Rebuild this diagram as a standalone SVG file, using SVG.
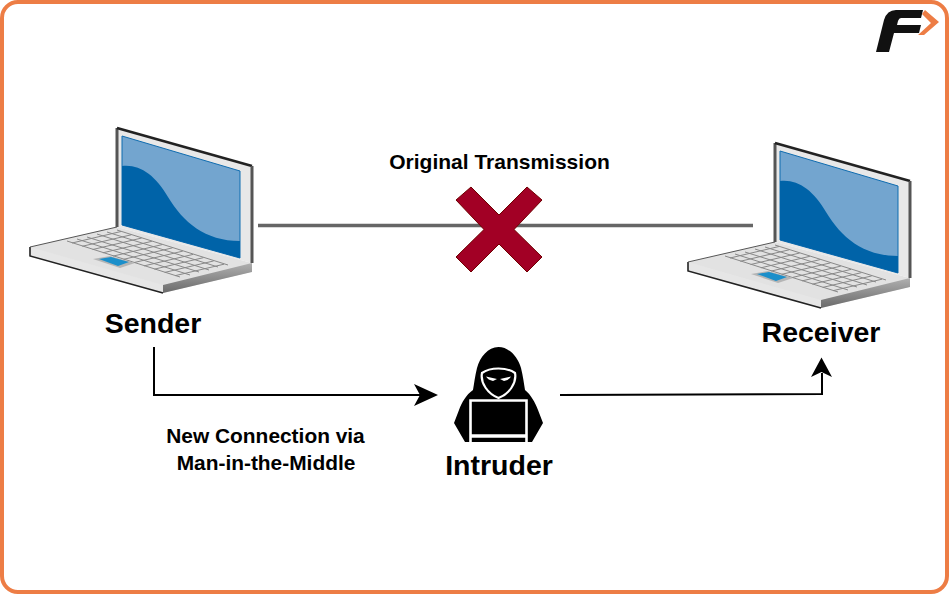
<svg xmlns="http://www.w3.org/2000/svg" xmlns:xlink="http://www.w3.org/1999/xlink" width="949" height="594" viewBox="0 0 949 594">
<style>
text{font-family:"Liberation Sans",Arial,sans-serif;font-weight:700;fill:#000;text-anchor:middle}
.big{font-size:28.5px}
.mid{font-size:21px}
.small{font-size:20.9px}
.wire{fill:none;stroke:#000;stroke-width:2}
.head{fill:#000}
</style>
<defs>
<linearGradient id="side" x1="0" y1="0" x2="0" y2="1"><stop offset="0" stop-color="#b0b0b0"/><stop offset="1" stop-color="#6a6a6a"/></linearGradient>
<g id="laptop">
<path d="M117 227L30 247V256L163 293L251 272L252 263Z" fill="#e2e2e2"/>
<path d="M30 247L163 285V293L30 256Z" fill="#e6e6e6"/>
<path d="M163 285L252 263V272L163 293Z" fill="url(#side)"/>
<path d="M30 247L30 256L163 293" fill="none" stroke="#222" stroke-width="1.600"/>
<path d="M30 247L117 227" fill="none" stroke="#555" stroke-width="1"/>
<path d="M117 128L252 166V263L117 227Z" fill="#e8e8e8"/>
<path d="M117 128V227" fill="none" stroke="#555" stroke-width="3"/>
<path d="M117 128L252 166" fill="none" stroke="#222" stroke-width="2.600"/>
<path d="M252 166V263" fill="none" stroke="#555" stroke-width="3"/>
<path d="M122 136L240 171V258L122 225Z" fill="#73a5cf" stroke="#0f6cb0" stroke-width="1"/>
<path d="M122 166C140 164 155 175 168 197C183 222 205 241 240 241V258L122 225Z" fill="#0063a8"/>
<path d="M67 241L180 277M77 239L190 275M87 237L199 272M97 234L209 270M107 232L218 267M117 230L228 265" fill="none" stroke="#888" stroke-width="1"/>
<path d="M72 243l49-11.500m-38.700 14.770l49-11.500m-38.700 14.770l49-11.500m-38.700 14.770l49-11.500m-38.700 14.770l49-11.500m-38.700 14.770l49-11.500m-38.700 14.770l49-11.500m-38.700 14.770l49-11.500m-38.700 14.770l49-11.500m-38.700 14.770l49-11.500m-38.700 14.770l49-11.500" fill="none" stroke="#888" stroke-width="1"/>
<path d="M93 259L110 256L135 263L120 268Z" fill="#b5b5b5"/>
<path d="M99 259L111 257L129 262L118 266Z" fill="#1b8fca"/>
</g>
</defs>
<rect x="2" y="2" width="945" height="590" rx="16" fill="#fff" stroke="#ed7d45" stroke-width="4"/>
<g id="logo">
<path d="M884 20Q887 10 896 10H923L921 18H901Q899 18 898 21L897 25H921L919 33H894L889 52H876Z" fill="#111"/>
<path d="M925 10L939 22L924 35H918L931 23L922 14Z" fill="#ed7d45"/>
</g>
<g id="connectors">
<path d="M258 225.500H753" fill="none" stroke="#666" stroke-width="3.500"/>
<path class="wire" d="M154 347V395H422"/>
<path class="head" d="M438 395L414 384L420 395L414 406Z"/>
<path class="wire" d="M560 395L822 394V373"/>
<path class="head" d="M821.500 357.500L811 377L821.500 372L832 377Z"/>
</g>
<g id="sender">
<use href="#laptop" xlink:href="#laptop"/>
<text class="big" x="153" y="333">Sender</text>
</g>
<g id="receiver">
<use href="#laptop" xlink:href="#laptop" transform="translate(658 15)"/>
<text class="big" x="821" y="342">Receiver</text>
</g>
<g id="cross">
<path d="M471 187L499 215L527 187L542 200L514 229.500L542 257L527 272L499 244L471 272L456 257L484 229.500L456 200Z" fill="#a20025" stroke="#6f0000" stroke-width="1"/>
</g>
<g id="original-label"><text class="mid" x="499.500" y="169">Original Transmission</text></g>
<g id="intruder">
<path d="M498.500 347C488 347 480 357 477 368C475 376 474 384 473 390C466 395 462 402 459 410L454 423L465 442H532L543 423L538 410C535 402 531 395 525 390C524 384 523 376 521 368C518 357 509 347 498.500 347Z" fill="#000"/>
<path d="M482 373C490 367 507 367 515 373C517 383 509 394 498.500 398C488 394 480 383 482 373Z" fill="#000" stroke="#fff" stroke-width="2.200"/>
<path d="M486 376.500L497 379L493 381Q488 380 486 376.500ZM511 376.500L500 379L504 381Q509 380 511 376.500Z" fill="#fff"/>
<path d="M470.500 442V400.500H526.500V442" fill="none" stroke="#fff" stroke-width="2.600"/>
<path d="M471 436H526" fill="none" stroke="#fff" stroke-width="3.500"/>
<text class="big" x="499" y="475">Intruder</text>
</g>
<g id="mitm-label">
<text class="small" x="265.500" y="443">New Connection via</text>
<text class="small" x="266" y="470">Man-in-the-Middle</text>
</g>
</svg>
